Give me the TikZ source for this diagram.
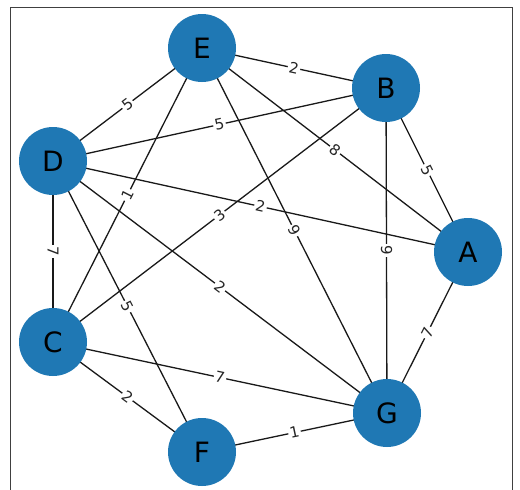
\documentclass[tikz,border=0pt]{standalone}
\usepackage{fontspec}
\setmainfont{DejaVu Sans}
\usetikzlibrary{backgrounds}
\definecolor{nxblue}{HTML}{1F78B4}
\begin{document}
\begin{tikzpicture}[x=1pt,y=-1pt,
  vtx/.style={circle,fill=nxblue,minimum size=68pt,inner sep=0pt,text=black,font=\fontsize{28}{28}\selectfont},
  edge/.style={draw=black!90,line width=1.3pt},
  wlab/.style={fill=white,inner sep=1.5pt,font=\fontsize{15}{15}\selectfont,text=black!85,sloped,midway},
  axframe/.style={draw=black!75,line width=0.9pt}]
\useasboundingbox (0,0) rectangle (520,490);
\node[vtx] (E) at (202,48) {E};
\node[vtx] (B) at (386,88) {B};
\node[vtx] (D) at (53,161) {D};
\node[vtx] (A) at (468,252) {A};
\node[vtx] (C) at (53,342) {C};
\node[vtx] (G) at (387,413) {G};
\node[vtx] (F) at (202,452) {F};
\begin{scope}[on background layer]
\fill[white] (0,0) rectangle (520,490);
\draw[axframe] (10,492) -- (10,7) -- (512,7) -- (512,492);
\draw[edge] (E.center) -- node[wlab]{2} (B.center);
\draw[edge] (D.center) -- node[wlab]{5} (E.center);
\draw[edge] (D.center) -- node[wlab]{5} (B.center);
\draw[edge] (E.center) -- node[wlab]{8} (A.center);
\draw[edge] (B.center) -- node[wlab]{5} (A.center);
\draw[edge] (D.center) -- node[wlab]{2} (A.center);
\draw[edge] (C.center) -- node[wlab]{3} (B.center);
\draw[edge] (C.center) -- node[wlab]{1} (E.center);
\draw[edge] (E.center) -- node[wlab]{9} (G.center);
\draw[edge] (G.center) -- node[wlab]{9} (B.center);
\draw[edge] (D.center) -- node[wlab]{7} (C.center);
\draw[edge] (D.center) -- node[wlab]{5} (F.center);
\draw[edge] (D.center) -- node[wlab]{2} (G.center);
\draw[edge] (G.center) -- node[wlab]{7} (A.center);
\draw[edge] (C.center) -- node[wlab]{7} (G.center);
\draw[edge] (C.center) -- node[wlab]{2} (F.center);
\draw[edge] (F.center) -- node[wlab]{1} (G.center);
\end{scope}
\end{tikzpicture}
\end{document}
